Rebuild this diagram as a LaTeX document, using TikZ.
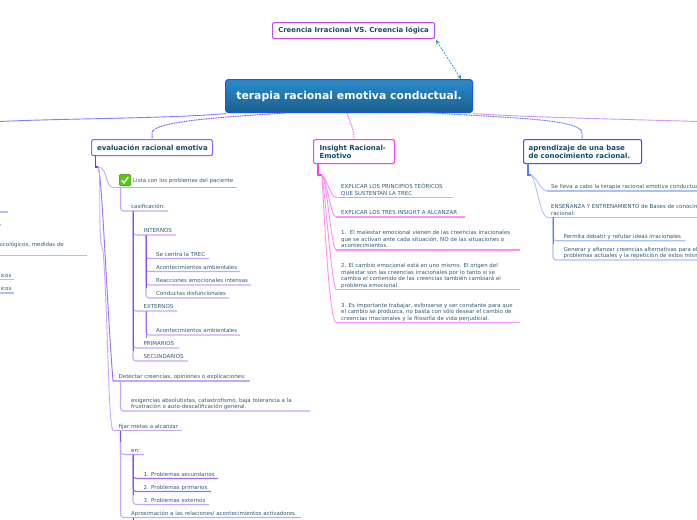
\documentclass[tikz,border=0pt]{standalone}
\usepackage{fontspec}
\setmainfont{DejaVu Sans}
\definecolor{txt}{HTML}{2F5B78}
\definecolor{ttl}{HTML}{174A68}
\definecolor{pur}{HTML}{7A2CF5}
\definecolor{purl}{HTML}{C8A6FF}
\definecolor{pnk}{HTML}{FF3DF0}
\definecolor{pnkl}{HTML}{FF90F6}
\definecolor{blu}{HTML}{2B5CF2}
\definecolor{blul}{HTML}{AEC0FB}
\definecolor{mag}{HTML}{C24BF5}
\definecolor{rtop}{HTML}{2A8CCB}
\definecolor{rbot}{HTML}{1A5F8C}
\definecolor{rbrd}{HTML}{1A50FF}
\definecolor{lime}{HTML}{5CC814}
\tikzset{
  lab/.style={anchor=south west,inner sep=0pt,align=left,text=txt,font=\fontsize{5.47}{6.5}\selectfont},
  boxb/.style={draw,line width=1.1pt,rounded corners=2pt,fill=white,anchor=north west,text=ttl,align=left,
    font=\fontsize{7}{8.2}\selectfont\bfseries,inner xsep=5.5pt,inner ysep=0pt},
  rootb/.style={draw=rbrd,line width=1.1pt,rounded corners=3pt,top color=rtop,bottom color=rbot,
    anchor=north west,text=white,font=\fontsize{10.85}{12}\selectfont\bfseries,inner sep=0pt},
  uline/.style={line width=1.1pt,rounded corners=3pt},
  vline/.style={line width=1pt},
  sw/.style={line width=0.9pt},
  dots/.style={line width=1pt,dash pattern=on 1pt off 0.7pt}
}
% name, parent, text x, underline y, underline start x, underline end x, colour, text
\newcommand{\kidnode}[8]{%
  \coordinate (#1-a) at (#5,#4);
  \coordinate (#1-b) at (#6,#4);
  \node[lab] (#1) at (#3,#4-0.8) {#8\vphantom{p}};
  \draw[uline,#7] (#1-a |- #2-a) -- (#1-a) -- (#1-b);
}
% name, text x, underline y, start x, end x, colour, text
\newcommand{\topnode}[7]{%
  \coordinate (#1-a) at (#4,#3);
  \coordinate (#1-b) at (#5,#3);
  \node[lab] (#1) at (#2,#3-0.8) {#7\vphantom{p}};
  \draw[uline,#6] (#1-a) -- (#1-b);
}
\begin{document}
\begin{tikzpicture}[x=1pt,y=-1pt]
\useasboundingbox (0,0) rectangle (697,520);
\clip (0,0) rectangle (697,520);
\fill[white] (0,0) rectangle (697,520);

% main nodes
\node[rootb,minimum width=247pt,minimum height=33pt] (root) at (225,79) {terapia racional emotiva conductual.};
\node[boxb,draw=mag,minimum width=162pt,minimum height=16pt,align=center,font=\fontsize{6.9}{8}\selectfont\bfseries] (top) at (272,22) {Creencia Irracional VS. Creencia lógica};
\node[boxb,draw=pur!75!white,text width=110pt,minimum height=16pt] (eval) at (91,139) {\mbox{evaluación racional emotiva}};
\node[boxb,draw=pnk,inner xsep=6pt,text width=69pt,minimum height=24pt] (ins) at (313,139) {Insight Racional-\\Emotivo};
\node[boxb,draw=blu,inner xsep=5pt,text width=108pt,minimum height=24pt] (apr) at (523,139) {aprendizaje de una base\\de conocimiento racional.};

% first-level connectors
\coordinate (leftend) at (0,121.5);
\coordinate (rightend) at (697,121.5);
\draw[<->,>=stealth,line width=0.8pt,dash pattern=on 1.5pt off 1.5pt,cyan!70!blue] (top.south east) ++(1,1) -- ([xshift=-12pt]root.north east);
\draw[line width=0.9pt,blue!50!white] (root.south west) ++(1,0.5) .. controls +(-60,5) and +(60,-3) .. (leftend);
\draw[line width=0.9pt,mag!60!white] (root.south east) ++(0,0.5) .. controls +(60,4) and +(-60,-2) .. (rightend);
\draw[dots,pur!85!white] (285,113) .. controls (225,117) and (152,121) .. (152,133) -- (eval.north -| 152,139);
\draw[dots,pnk!80!white] (root.south) ++(-2,0) .. controls +(3,10) and +(0,-10) .. (ins.north);
\draw[dots,blu!80!white] (420,112) .. controls (500,118) and (582,118) .. (582,133) -- (apr.north -| 582,139);

% evaluacion branch
\coordinate (evs) at (95.5,155);
\coordinate (evt) at (95.5,167);
\draw[line width=1.1pt,pur] (evs) -- (evt) -- (98,167);
\topnode{lista}{133}{187.5}{113}{237}{purl}{\raisebox{2.4pt}{Lista con los problemas del paciente}}
\draw[sw,purl] (98,167) .. controls +(10,0) and +(-8,0) .. (lista-a);
\node[draw=lime!70!black,fill=lime,rounded corners=1.5pt,line width=0.5pt,minimum size=11.5pt,inner sep=0pt] (chk) at (125,180) {};
\draw[white,line width=1.4pt] (chk.center) ++(-3.2,0.3) -- ++(2.2,2.6) -- ++(4.2,-5.8);

\kidnode{cas}{lista}{131}{211}{120.5}{168}{purl}{casificación:}
\kidnode{int}{cas}{143.5}{235}{133}{176}{purl}{INTERNOS}
\kidnode{i1}{int}{156}{258.5}{146}{209}{purl}{Se centra la TREC}
\kidnode{i2}{int}{156}{271.5}{146}{240}{purl}{Acontecimientos ambientales}
\kidnode{i3}{int}{156}{285}{146}{251}{purl}{Reacciones emocionales intensas}
\kidnode{i4}{int}{156}{298}{146}{229}{purl}{Conductas disfuncionales}
\kidnode{ext}{cas}{143.5}{311}{133}{177}{purl}{EXTERNOS}
\kidnode{e1}{ext}{156}{335}{146}{240}{purl}{Acontecimientos ambientales}
\kidnode{pri}{cas}{143.5}{348}{133}{179}{purl}{PRIMARIOS}
\kidnode{sec}{cas}{143.5}{361}{133}{188}{purl}{SECUNDARIOS}
\draw[vline,pur!85!white] (int-a |- cas-a) -- ([yshift=-3pt]pri-a);
\draw[vline,pur!85!white] (i1-a |- int-a) -- ([yshift=-3pt]i3-a);
\draw[vline,pur!70!white] (e1-a |- ext-a) -- ([yshift=-3pt]e1-a);

\topnode{det}{118.5}{381}{113}{250}{purl}{Detectar creencias, opiniones o explicaciones:}
\kidnode{exi}{det}{131}{411}{120.5}{310}{purl}{exigencias absolutistas, catastrofismo, baja tolerancia a la\\frustración o auto-descalificación general.}
\topnode{fij}{118.5}{430.5}{113}{182}{purl}{fijar metas a alcanzar}
\kidnode{en}{fij}{131}{454.5}{120.5}{144}{purl}{en:}
\kidnode{p1}{en}{143.5}{478.5}{133}{218}{pur!70!white}{1. Problemas secundarios}
\kidnode{p2}{en}{143.5}{491.5}{133}{211}{pur!70!white}{2. Problemas primarios}
\kidnode{p3}{en}{143.5}{504.5}{133}{209}{purl}{3. Problemas externos}
\kidnode{apx}{fij}{131}{517.5}{120.5}{301}{purl}{Aproximación a las relaciones/ acontecimientos activadores.}
\coordinate (apxv) at (133,521);
\draw[vline,pur!85!white] (p1-a |- en-a) -- ([yshift=-3pt]p2-a);
\draw[vline,pur!85!white] (en-a |- fij-a) -- (120.5,442);
\draw[vline,pur] (apxv) -- (133,517.5);

\draw[sw,pur!70!white] (98,167) .. controls +(4,5) and +(-7,-90) .. (det-a);
\draw[sw,purl] (98,167) .. controls +(4,5) and +(-6,-10) .. (103,250) .. controls +(5,60) and +(-5,-5) .. (fij-a);

% insight branch
\coordinate (inss) at (318,163);
\coordinate (inst) at (318,175);
\draw[line width=1.1pt,pnk] (inss) -- (inst) -- (322,175);
\topnode{a1}{341}{197.5}{336}{453}{pnkl}{EXPLICAR LOS PRINCIPIOS TEÓRICOS\\QUE SUSTENTAN LA TREC}
\topnode{a2}{341}{217}{336}{465}{pnkl}{EXPLICAR LOS TRES INSIGHT A ALCANZAR}
\topnode{a3}{341}{250}{336}{520}{pnkl}{1.\ \ El malestar emocional vienen de las creencias irracionales\\que se activan ante cada situación, NO de las situaciones o\\acontecimientos.}
\topnode{a4}{341}{289.5}{336}{520}{pnkl}{2. El cambio emocional está en uno mismo. El origen del\\malestar son las creencias irracionales por lo tanto si se\\cambia el contenido de las creencias también cambiará el\\problema emocional.}
\topnode{a5}{341}{322.5}{336}{520}{pnkl}{3. Es importante trabajar, esforzarse y ser constante para que\\el cambio se produzca, no basta con sólo desear el cambio de\\creencias irracionales y la filosofía de vida perjudicial.}
\draw[sw,pnkl] (322,175) .. controls +(5,3) and +(-6,-1) .. (a1-a);
\draw[sw,pnkl] (322,175) .. controls +(5,4) and +(-6,-2) .. (a2-a);
\draw[sw,pnkl] (322,175) .. controls +(5,6) and +(-5,-3) .. (a3-a);
\draw[sw,pnkl] (322,175) .. controls +(4,30) and +(-4,-5) .. (a4-a);
\draw[sw,pnkl] (322,175) .. controls +(3,60) and +(-6,-2) .. (a5-a);

% aprendizaje branch
\coordinate (aprs) at (528,163);
\coordinate (aprt) at (528,175);
\draw[line width=1.1pt,blu!80!white] (aprs) -- (aprt) -- (531,175);
\topnode{b1}{551}{191}{547}{697}{blul}{Se lleva a cabo la terapia racional emotiva conductual}
\topnode{b2}{551}{217.3}{547}{697}{blul}{ENSEÑANZA Y ENTRENAMIENTO de Bases de conocimiento\\racional:}
\draw[sw,blul] (531,175) .. controls +(6,2) and +(-7,-1) .. (b1-a);
\draw[sw,blul] (531,175) .. controls +(5,4) and +(-7,-2) .. (b2-a);
\kidnode{b3}{b2}{563.5}{240.7}{553}{685}{blul}{Permita debatir y refutar ideas irracionales}
\kidnode{b4}{b2}{563.5}{260}{553}{697}{blul}{Generar y afianzar creencias alternativas para el\\problemas actuales y la repetición de estos mismos}
\draw[vline,blu!80!white] (b3-a |- b2-a) -- ([yshift=-3pt]b3-a);

% left branch, cut off by the picture edge
\coordinate (l0-a) at (-20,212);
\coordinate (l0-b) at (8,212);
\draw[uline,blul] (l0-a) -- (l0-b);
\coordinate (l1-a) at (-5,225);
\coordinate (l1-b) at (1,225);
\draw[uline,blul] (l1-a) -- (l1-b);
\coordinate (l2-a) at (-20,255.7);
\coordinate (l2-b) at (87,255.7);
\node[lab,anchor=south east] (l2) at (64,248) {psicológicos, medidas de};
\draw[uline,blul] (l2-a) -- (l2-b);
\topnode{l3}{0.5}{279.5}{-10}{14}{blul}{icos}
\topnode{l4}{0.5}{293}{-10}{14}{blul}{icos}
\end{tikzpicture}
\end{document}
